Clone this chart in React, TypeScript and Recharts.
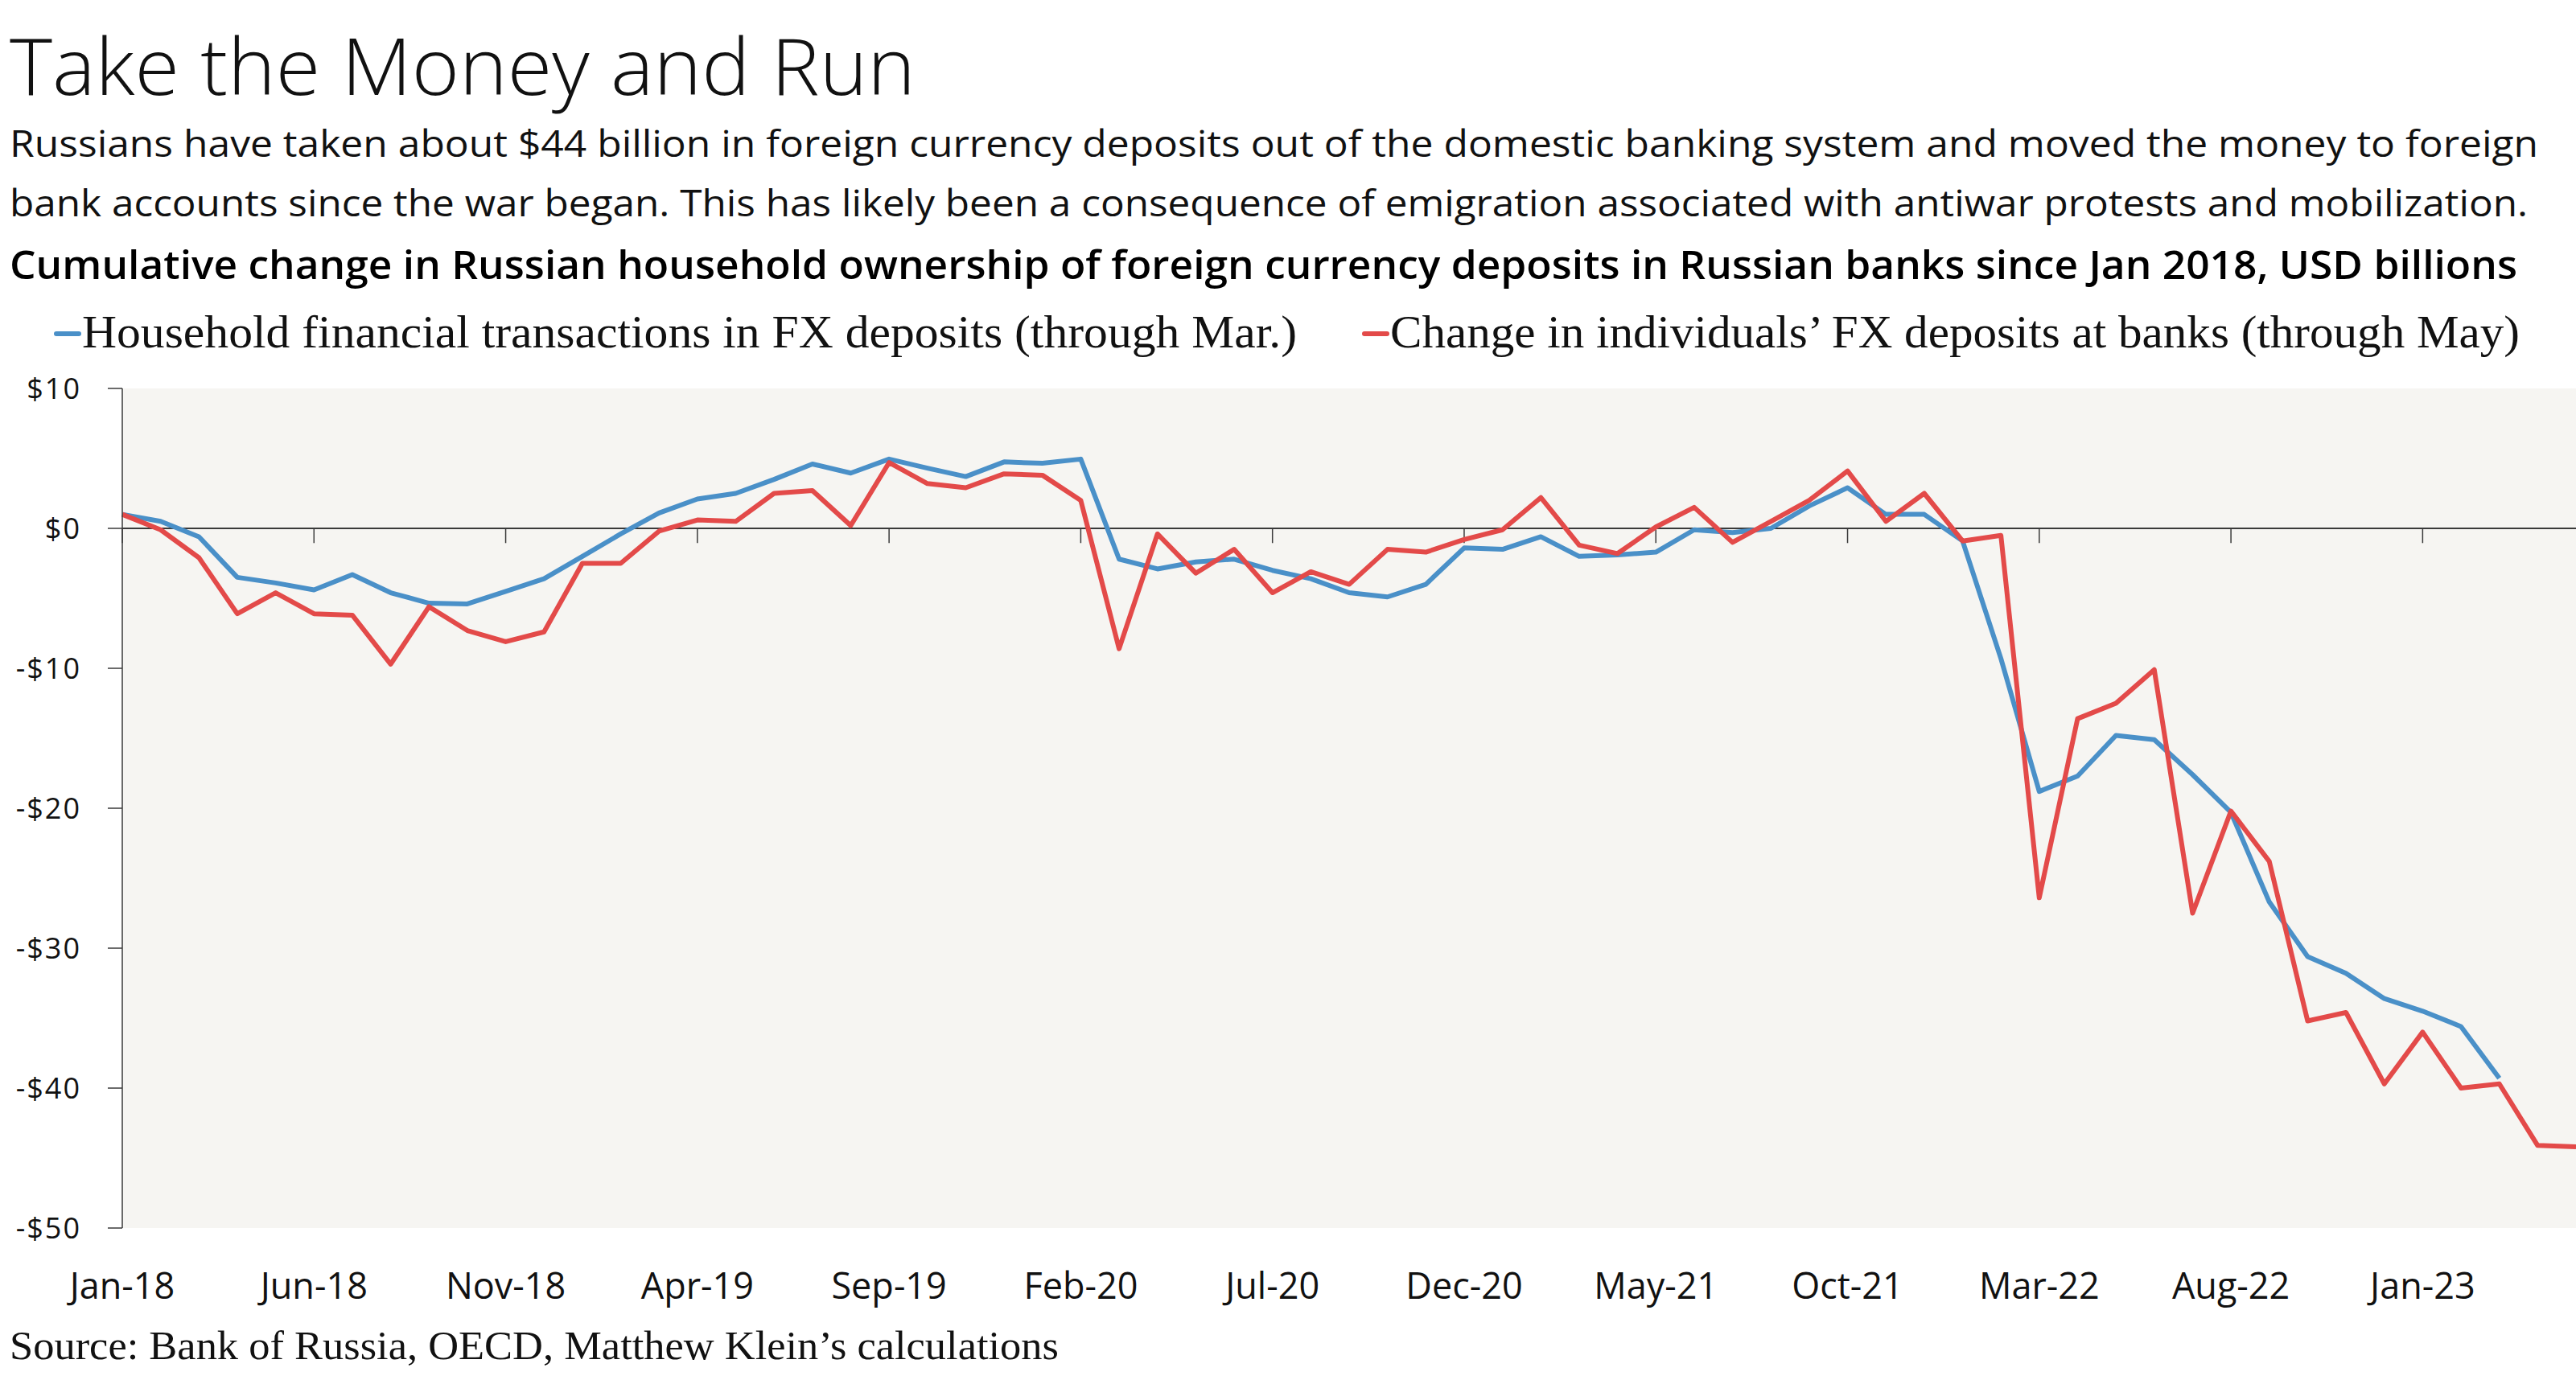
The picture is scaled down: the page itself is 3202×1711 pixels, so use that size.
import React from 'react'
import { LineChart, Line, XAxis, YAxis, CartesianGrid, ReferenceLine } from 'recharts'

const months = [
    'Jan-18', 'Feb-18', 'Mar-18', 'Apr-18', 'May-18', 'Jun-18', 'Jul-18', 'Aug-18', 'Sep-18', 'Oct-18', 'Nov-18', 'Dec-18',
    'Jan-19', 'Feb-19', 'Mar-19', 'Apr-19', 'May-19', 'Jun-19', 'Jul-19', 'Aug-19', 'Sep-19', 'Oct-19', 'Nov-19', 'Dec-19',
    'Jan-20', 'Feb-20', 'Mar-20', 'Apr-20', 'May-20', 'Jun-20', 'Jul-20', 'Aug-20', 'Sep-20', 'Oct-20', 'Nov-20', 'Dec-20',
    'Jan-21', 'Feb-21', 'Mar-21', 'Apr-21', 'May-21', 'Jun-21', 'Jul-21', 'Aug-21', 'Sep-21', 'Oct-21', 'Nov-21', 'Dec-21',
    'Jan-22', 'Feb-22', 'Mar-22', 'Apr-22', 'May-22', 'Jun-22', 'Jul-22', 'Aug-22', 'Sep-22', 'Oct-22', 'Nov-22', 'Dec-22',
    'Jan-23', 'Feb-23', 'Mar-23', 'Apr-23', 'May-23',
]

// household financial transactions in FX deposits (through Mar-23)
const householdTx = [
    1.0, 0.5, -0.6, -3.5, -3.9, -4.4, -3.3, -4.6, -5.35, -5.4, -4.5, -3.6,
    -2.0, -0.4, 1.1, 2.1, 2.5, 3.5, 4.6, 3.95, 4.95, 4.3, 3.7, 4.75,
    4.65, 4.95, -2.2, -2.9, -2.4, -2.2, -3.0, -3.6, -4.6, -4.9, -4.0, -1.4,
    -1.5, -0.6, -2.0, -1.9, -1.7, -0.1, -0.3, 0.0, 1.6, 2.9, 1.0, 1.0,
    -0.9, -9.3, -18.8, -17.7, -14.8, -15.1, -17.6, -20.3, -26.7, -30.6, -31.8, -33.6,
    -34.5, -35.6, -39.3,
]

// change in individuals' FX deposits at banks (through May-23)
const bankDeposits = [
    1.0, -0.1, -2.1, -6.1, -4.6, -6.1, -6.2, -9.7, -5.6, -7.3, -8.1, -7.4,
    -2.5, -2.5, -0.2, 0.6, 0.5, 2.5, 2.7, 0.2, 4.7, 3.2, 2.9, 3.9,
    3.8, 2.0, -8.6, -0.4, -3.2, -1.5, -4.6, -3.1, -4.0, -1.5, -1.7, -0.8,
    -0.1, 2.2, -1.2, -1.8, 0.1, 1.5, -1.0, 0.5, 2.0, 4.1, 0.5, 2.5,
    -0.9, -0.5, -26.4, -13.6, -12.5, -10.1, -27.5, -20.2, -23.8, -35.2, -34.6, -39.7,
    -36.0, -40.0, -39.7, -44.1, -44.2,
]

const yTicks = [10, 0, -10, -20, -30, -40, -50]

const BLUE = '#4A90C8'
const RED = '#E34A49'
const INK = '#3a3a3a'

const rows = months.map((m, i) => ({
    month: m,
    household: i < householdTx.length ? householdTx[i] : null,
    banks: bankDeposits[i],
}))

const tickMonths = months.filter((_, i) => i % 5 === 0)

const fmtUsd = (v: number) => (v < 0 ? `-$${-v}` : `$${v}`)

function YTick({ x, y, payload }: any) {
    return (
        <text x={x} y={y} dy={13} textAnchor="end" fontFamily="Open Sans" fontSize={36} letterSpacing={2} fill="#111">
            {fmtUsd(payload.value)}
        </text>
    )
}

function XTick({ x, y, payload }: any) {
    return (
        <text x={x} y={y} dy={88} textAnchor="middle" fontFamily="Open Sans" fontSize={45} fill="#111">
            {payload.value}
        </text>
    )
}

function Headline() {
    const serif = '"Liberation Serif", "DejaVu Serif", serif'
    return (
        <svg width={3202} height={1711} style={{ position: 'absolute', top: 0, left: 0, pointerEvents: 'none' }}>
            <text x={12} y={118} fontFamily="Open Sans" fontWeight={300} fontSize={98} textLength={1126} lengthAdjust="spacingAndGlyphs" fill="#111">
                Take the Money and Run
            </text>
            <text x={12} y={195} fontFamily="Open Sans" fontSize={45} textLength={3143} lengthAdjust="spacingAndGlyphs" fill="#111">
                Russians have taken about $44 billion in foreign currency deposits out of the domestic banking system and moved the money to foreign
            </text>
            <text x={12} y={269} fontFamily="Open Sans" fontSize={45} textLength={3130} lengthAdjust="spacingAndGlyphs" fill="#111">
                bank accounts since the war began. This has likely been a consequence of emigration associated with antiwar protests and mobilization.
            </text>
            <text x={12} y={347} fontFamily="Open Sans" fontWeight={600} fontSize={49} textLength={3117} lengthAdjust="spacingAndGlyphs" fill="#000">
                Cumulative change in Russian household ownership of foreign currency deposits in Russian banks since Jan 2018, USD billions
            </text>

            <line x1={70} y1={415} x2={98} y2={415} stroke={BLUE} strokeWidth={6} strokeLinecap="round" />
            <text x={102} y={432} fontFamily={serif} fontSize={56} textLength={1510} lengthAdjust="spacingAndGlyphs" fill="#111">
                Household financial transactions in FX deposits (through Mar.)
            </text>
            <line x1={1696} y1={415} x2={1724} y2={415} stroke={RED} strokeWidth={6} strokeLinecap="round" />
            <text x={1728} y={432} fontFamily={serif} fontSize={56} textLength={1404} lengthAdjust="spacingAndGlyphs" fill="#111">
                Change in individuals’ FX deposits at banks (through May)
            </text>

            <text x={12} y={1690} fontFamily={serif} fontSize={51} textLength={1304} lengthAdjust="spacingAndGlyphs" fill="#111">
                Source: Bank of Russia, OECD, Matthew Klein’s calculations
            </text>
        </svg>
    )
}

export default function App() {
    return (
        <div style={{ position: 'absolute', top: 0, left: 0, width: 3202, height: 1711, background: '#fff' }}>
            <LineChart width={3202} height={1711} data={rows} margin={{ top: 483, right: 0, bottom: 0, left: 0 }}>
                <CartesianGrid horizontal={false} vertical={false} fill="#F6F5F2" fillOpacity={1} stroke="none" />
                <XAxis
                    dataKey="month"
                    interval={4}
                    axisLine={false}
                    tickLine={false}
                    tickSize={0}
                    tickMargin={0}
                    height={184}
                    tick={<XTick />}
                />
                <YAxis
                    domain={[-50, 10]}
                    ticks={yTicks}
                    width={152}
                    tickSize={18}
                    tickMargin={33}
                    axisLine={{ stroke: INK, strokeWidth: 1.5 }}
                    tickLine={{ stroke: INK, strokeWidth: 1.5 }}
                    tick={<YTick />}
                />
                <ReferenceLine y={0} stroke={INK} strokeWidth={2} />
                {tickMonths.map((m) => (
                    <ReferenceLine
                        key={m}
                        segment={[{ x: m, y: 0 }, { x: m, y: -1.05 }]}
                        stroke={INK}
                        strokeWidth={1.5}
                    />
                ))}
                <Line
                    type="linear"
                    dataKey="household"
                    stroke={BLUE}
                    strokeWidth={6}
                    strokeLinejoin="round"
                    dot={false}
                    isAnimationActive={false}
                />
                <Line
                    type="linear"
                    dataKey="banks"
                    stroke={RED}
                    strokeWidth={6}
                    strokeLinejoin="round"
                    dot={false}
                    isAnimationActive={false}
                />
            </LineChart>
            <Headline />
        </div>
    )
}
